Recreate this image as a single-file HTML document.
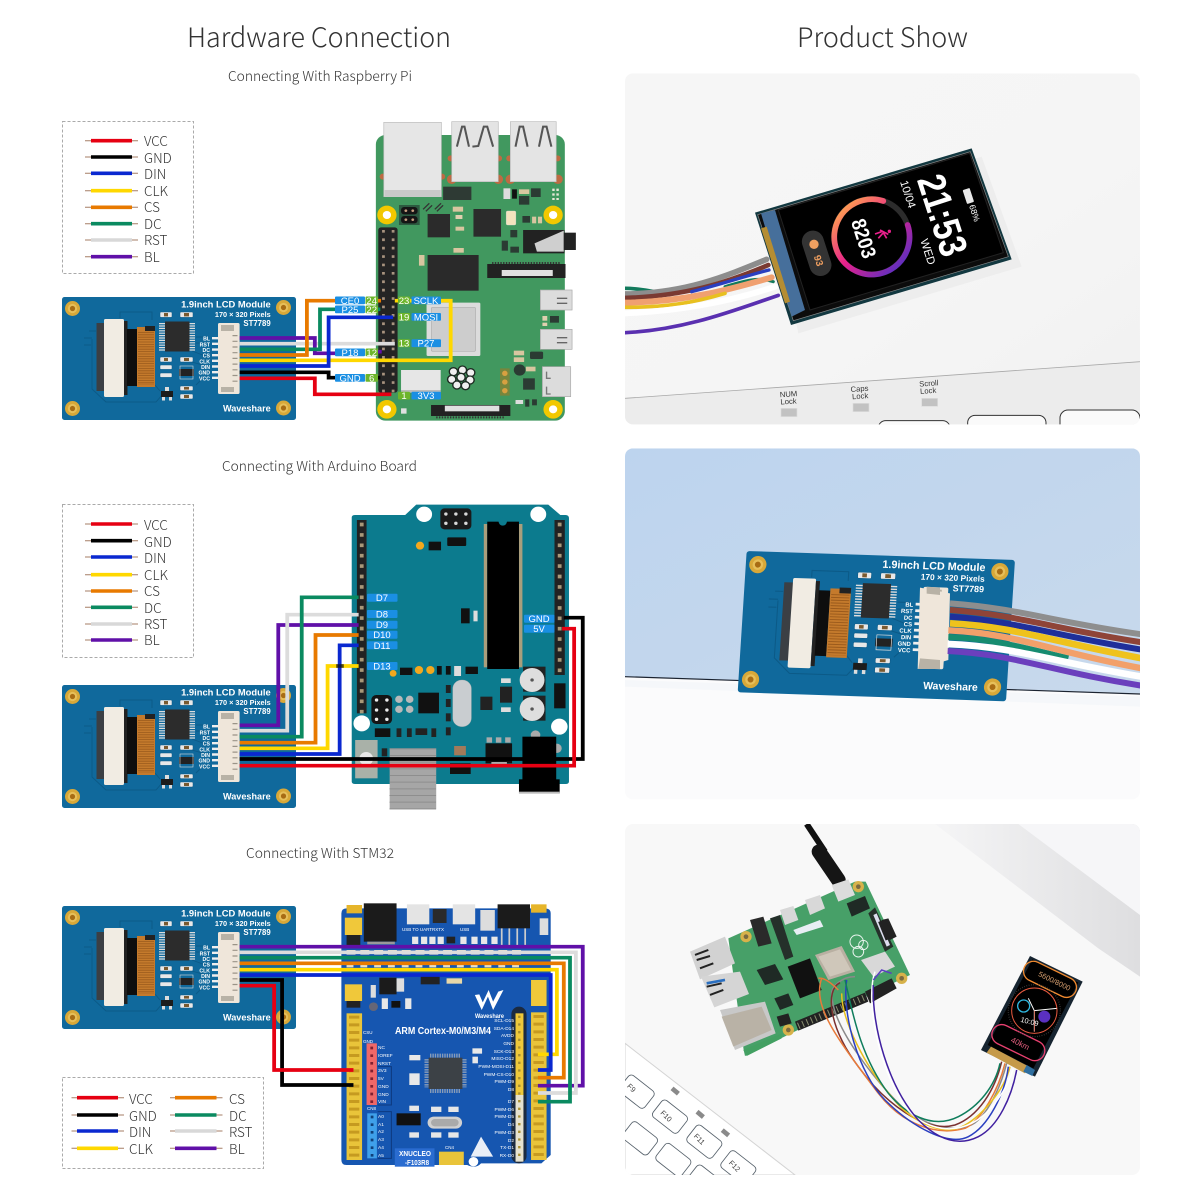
<!DOCTYPE html>
<html><head><meta charset="utf-8"><style>
html,body{margin:0;padding:0;background:#fff}
svg{display:block}
.t{font-family:"Noto Sans CJK SC","Liberation Sans",sans-serif;fill:#333;font-weight:300}
.b{font-family:"Liberation Sans",sans-serif;font-weight:bold;fill:#fff}
.l{font-family:"Liberation Sans",sans-serif;fill:#fff;font-size:9.5px;text-anchor:middle}
.s{font-family:"Liberation Sans",sans-serif;fill:#fff;font-size:5px}
.w{fill:none;stroke-width:11;stroke-linejoin:miter}
</style></head><body>
<svg xmlns="http://www.w3.org/2000/svg" width="1200" height="1200" viewBox="0 0 1200 1200">
<defs>
<clipPath id="cp1"><rect x="0" y="10" width="1545" height="1053" rx="24"/></clipPath>
<clipPath id="cp2"><rect x="0" y="10" width="1545" height="1053" rx="24"/></clipPath>
<clipPath id="cp3"><rect x="0" y="12" width="1545" height="1053" rx="24"/></clipPath>
<linearGradient id="ring" gradientUnits="userSpaceOnUse" x1="860" y1="560" x2="680" y2="380"><stop offset="0" stop-color="#5d2fc0"/><stop offset=".5" stop-color="#e8208c"/><stop offset="1" stop-color="#ffa050"/></linearGradient>
<linearGradient id="g1" x1="0" y1="0" x2="1" y2="1"><stop offset="0" stop-color="#f6f6f6"/><stop offset=".6" stop-color="#f5f5f5"/><stop offset="1" stop-color="#f1f1f1"/></linearGradient>
<linearGradient id="g2" x1="0" y1="0" x2="1" y2="1"><stop offset="0" stop-color="#bdd4ee"/><stop offset="1" stop-color="#c8d9ec"/></linearGradient>
<linearGradient id="g3" x1="0" y1="0" x2="1" y2="0"><stop offset="0" stop-color="#f5f5f6"/><stop offset="1" stop-color="#dedee0"/></linearGradient>
<g id="hole"><circle r="7.5" fill="#d8a838"/><circle r="4.6" fill="#e6bf5a"/><circle r="2.6" fill="#a86c14"/></g>
<g id="mod">
<rect width="234" height="123" rx="2.5" fill="#10699c"/>
<path d="M58 21V15H90V23M34 34H27M30 41H22M22 48H29M30 42V92L44 105H94L100 98M93 88L98 94M134 40H146M134 46H146M130 54L146 60M126 64L148 70M134 88L142 80" fill="none" stroke="#0c5a87" stroke-width=".9"/>
<use href="#hole" x="10.5" y="11.5"/><use href="#hole" x="221.5" y="10.5"/><use href="#hole" x="10.5" y="111.5"/><use href="#hole" x="221.5" y="111"/>
<rect x="34.5" y="26" width="9" height="68" fill="#3b3f44"/>
<rect x="42" y="22" width="20" height="78" rx="1.5" fill="#f1ece3"/>
<rect x="62" y="24" width="3.5" height="74" fill="#222"/>
<rect x="65" y="32" width="10" height="57" fill="#0e0e0e"/>
<rect x="75" y="30" width="18" height="60" fill="#c47a2c"/>
<rect x="83" y="29" width="10" height="5" fill="#222"/>
<line x1="84" y1="35" x2="84" y2="88" stroke="#9a5a1c" stroke-width="16" stroke-dasharray=".8 1.6"/>
<line x1="100" y1="26" x2="100" y2="54" stroke="#ddd" stroke-width="6" stroke-dasharray="1.2 1.2"/>
<line x1="130" y1="26" x2="130" y2="54" stroke="#ddd" stroke-width="6" stroke-dasharray="1.2 1.2"/>
<rect x="103" y="24.5" width="24.5" height="30" fill="#2c2c2c"/>
<g fill="#e8e8e8" stroke="#0c5a87" stroke-width=".5">
<rect x="98" y="15" width="12" height="5.4" rx="1"/><rect x="118" y="15" width="13" height="5.4" rx="1"/>
<rect x="98" y="60" width="12" height="5" rx="1"/><rect x="98" y="68" width="12" height="4.4" rx="1"/><rect x="98" y="76" width="12" height="4.4" rx="1"/>
<rect x="118" y="60" width="13" height="5" rx="1"/><rect x="118" y="89" width="13" height="4.6" rx="1"/><rect x="118" y="97" width="13" height="5" rx="1"/></g>
<g fill="#7a5a30"><rect x="102" y="16" width="4" height="3.4"/><rect x="122" y="16" width="5" height="3.4"/><rect x="102" y="61" width="4" height="3"/><rect x="122" y="61" width="5" height="3"/><rect x="122" y="90" width="5" height="2.6"/><rect x="122" y="98" width="5" height="3"/></g>
<rect x="117" y="72" width="15" height="7" fill="#222"/><rect x="118" y="69" width="13" height="13" fill="none" stroke="#ddd" stroke-width=".6"/>
<rect x="99" y="94" width="12" height="6" fill="#1c1c1c"/><rect x="103" y="90" width="4" height="4" fill="#ddd"/><rect x="100" y="100" width="3" height="3.5" fill="#ddd"/><rect x="107" y="100" width="3" height="3.5" fill="#ddd"/>
<line x1="153" y1="40" x2="153" y2="84" stroke="#eee" stroke-width="6" stroke-dasharray="2.4 3.26"/>
<rect x="156" y="26" width="21.6" height="71" rx="1.5" fill="#efe6da"/>
<rect x="159" y="28" width="13" height="6" fill="#b8b2a6"/><rect x="159" y="90" width="13" height="5" fill="#b8b2a6"/>
<line x1="173" y1="38" x2="173" y2="86" stroke="#9b9488" stroke-width="5" stroke-dasharray="1.2 4.5"/>
</g>
<g id="modt" class="b">
<text x="208.7" y="10.6" text-anchor="end" font-size="9.4">1.9inch LCD Module</text>
<text x="208.7" y="19.8" text-anchor="end" font-size="7.3">170 × 320 Pixels</text>
<text x="208.7" y="29" text-anchor="end" font-size="7.8">ST7789</text>
<text x="208.7" y="114.7" text-anchor="end" font-size="9.1">Waveshare</text>
<g text-anchor="end" font-size="5.2"><text x="148" y="43.6">BL</text><text x="148" y="49.3">RST</text><text x="148" y="55">DC</text><text x="148" y="60.7">CS</text><text x="148" y="66.3">CLK</text><text x="148" y="72">DIN</text><text x="148" y="77.7">GND</text><text x="148" y="83.3">VCC</text></g>
</g>
<g id="ph"><circle r="28" fill="#f2c800"/><circle r="12" fill="#fff"/></g>
</defs>

<rect width="1200" height="1200" fill="#fff"/>

<!-- Titles -->
<text class="t" x="187" y="47" font-size="27" textLength="264" lengthAdjust="spacingAndGlyphs">Hardware Connection</text>
<text class="t" x="797" y="47" font-size="27" textLength="171" lengthAdjust="spacingAndGlyphs">Product Show</text>
<text class="t" x="228" y="81" font-size="13.5" textLength="184" lengthAdjust="spacingAndGlyphs">Connecting With Raspberry Pi</text>
<text class="t" x="222" y="471" font-size="13.5" textLength="195" lengthAdjust="spacingAndGlyphs">Connecting With Arduino Board</text>
<text class="t" x="246" y="858" font-size="13.5" textLength="148" lengthAdjust="spacingAndGlyphs">Connecting With STM32</text>

<!-- Legend 1 -->
<rect x="62.5" y="121.5" width="131" height="152" fill="none" stroke="#aaa" stroke-dasharray="3 2"/>
<g stroke="#a57e66" stroke-width="1"><line x1="85" x2="138" y1="140.7" y2="140.7"/><line x1="85" x2="138" y1="157" y2="157"/><line x1="85" x2="138" y1="173.3" y2="173.3"/><line x1="85" x2="138" y1="190.7" y2="190.7"/><line x1="85" x2="138" y1="207.3" y2="207.3"/><line x1="85" x2="138" y1="223.7" y2="223.7"/><line x1="85" x2="138" y1="240" y2="240"/><line x1="85" x2="138" y1="256.7" y2="256.7"/></g>
<g stroke-width="3.6"><line x1="91" x2="132" y1="140.7" y2="140.7" stroke="#e60012"/><line x1="91" x2="132" y1="157" y2="157" stroke="#000"/><line x1="91" x2="132" y1="173.3" y2="173.3" stroke="#0a28d0"/><line x1="91" x2="132" y1="190.7" y2="190.7" stroke="#ffd800"/><line x1="91" x2="132" y1="207.3" y2="207.3" stroke="#e87a00"/><line x1="91" x2="132" y1="223.7" y2="223.7" stroke="#0a8a60"/><line x1="91" x2="132" y1="240" y2="240" stroke="#d8d8d8"/><line x1="91" x2="132" y1="256.7" y2="256.7" stroke="#6010a8"/></g>
<g class="t" font-size="13.5"><text x="144" y="146">VCC</text><text x="144" y="163">GND</text><text x="144" y="179">DIN</text><text x="144" y="196">CLK</text><text x="144" y="212">CS</text><text x="144" y="229">DC</text><text x="144" y="245">RST</text><text x="144" y="262">BL</text></g>

<!-- Module 1 -->
<g transform="translate(62,297)"><use href="#mod"/><use href="#modt"/></g>

<!-- RPi -->
<g transform="translate(50,110) scale(.34483,.33333)">
<rect x="945" y="75" width="548" height="857" rx="28" fill="#41985f"/>
<g fill="#bd6b43"><circle cx="965" cy="200" r="9"/><circle cx="1137" cy="200" r="9"/><circle cx="1165" cy="208" r="14"/><circle cx="1300" cy="208" r="14"/><circle cx="1335" cy="208" r="14"/><circle cx="1473" cy="208" r="14"/><circle cx="1162" cy="145" r="9"/><circle cx="1302" cy="145" r="9"/><circle cx="1332" cy="145" r="9"/><circle cx="1472" cy="145" r="9"/></g>
<rect x="968" y="37" width="167" height="223" fill="#e6e6e6" stroke="#bdbdbd" stroke-width="2"/><rect x="970" y="240" width="163" height="18" fill="#c9c9c9"/>
<rect x="1165" y="35" width="135" height="180" fill="#e4e4e4" stroke="#bbb" stroke-width="2"/>
<rect x="1335" y="35" width="133" height="180" fill="#e4e4e4" stroke="#bbb" stroke-width="2"/>
<path d="M1180 110 L1195 50 H1202 L1215 110M1225 110L1242 108L1258 50H1268L1285 110M1350 110L1362 50H1372L1385 110M1418 110L1430 50H1440L1454 110" fill="none" stroke="#555" stroke-width="6"/>
<rect x="1140" y="230" width="82" height="40" fill="#2e3a34"/>
<rect x="1012" y="285" width="60" height="60" fill="#2c5a40"/><rect x="1018" y="291" width="48" height="22" rx="9" fill="#151515"/><rect x="1018" y="318" width="48" height="22" rx="9" fill="#151515"/>
<g fill="#c8a080"><circle cx="1032" cy="302" r="4"/><circle cx="1052" cy="302" r="4"/><circle cx="1032" cy="329" r="4"/><circle cx="1052" cy="329" r="4"/></g>
<path d="M1082 298L1100 280M1090 304L1108 286M1116 298L1134 280M1122 304L1140 286" stroke="#333" stroke-width="4"/>
<rect x="1095" y="312" width="65" height="70" fill="#2b2b2b"/><rect x="1228" y="297" width="80" height="83" fill="#2b2b2b"/><rect x="1095" y="435" width="148" height="107" fill="#2a2a2a"/>
<rect x="1323" y="303" width="28" height="42" rx="4" fill="#f4e3bd" stroke="#ddd"/>
<rect x="1168" y="290" width="30" height="15" fill="#d8c6a0"/><rect x="1176" y="315" width="20" height="12" fill="#e0d0b0"/><rect x="1176" y="350" width="25" height="12" fill="#d8c6a0"/><rect x="1170" y="414" width="30" height="14" fill="#d8c6a0"/><rect x="1070" y="435" width="16" height="32" fill="#d8c6a0"/>
<rect x="1315" y="235" width="20" height="32" fill="#ddd"/><rect x="1340" y="238" width="14" height="28" fill="#111"/><rect x="1360" y="238" width="30" height="14" fill="#d8c6a0"/><rect x="1395" y="235" width="28" height="26" fill="#2b3b33"/><rect x="1360" y="258" width="30" height="26" fill="#2b3b33"/>
<line x1="1460" x2="1460" y1="236" y2="270" stroke="#e8e8d8" stroke-width="7" stroke-dasharray="7 7"/><line x1="1472" x2="1472" y1="236" y2="270" stroke="#e8e8d8" stroke-width="7" stroke-dasharray="7 7"/>
<rect x="1370" y="318" width="22" height="20" fill="#2b3b33"/><rect x="1398" y="320" width="12" height="20" fill="#d8c6a0"/><rect x="1415" y="320" width="12" height="20" fill="#d8c6a0"/>
<rect x="1372" y="360" width="120" height="70" fill="#222"/><path d="M1405 400L1490 362V425H1412Z" fill="#cfcfcf"/><rect x="1490" y="368" width="35" height="52" fill="#222"/>
<rect x="1310" y="392" width="18" height="30" fill="#2b3b33"/><rect x="1335" y="360" width="20" height="22" fill="#2b3b33"/><rect x="1335" y="410" width="25" height="18" fill="#2b3b33"/>
<rect x="1268" y="462" width="227" height="42" fill="#222"/><rect x="1310" y="480" width="148" height="18" fill="#e0e0e0"/><line x1="1282" x2="1480" y1="459" y2="459" stroke="#333" stroke-width="6" stroke-dasharray="4 4"/>
<rect x="952" y="352" width="56" height="496" rx="8" fill="#242424"/>
<line x1="967" x2="967" y1="360" y2="848" stroke="#a8937f" stroke-width="8" stroke-dasharray="8 17.2"/>
<line x1="995" x2="995" y1="360" y2="848" stroke="#a8937f" stroke-width="8" stroke-dasharray="8 17.2"/>
<use href="#ph" x="977" y="315"/><use href="#ph" x="1459" y="315"/><use href="#ph" x="977" y="898"/><use href="#ph" x="1459" y="898"/>
<rect x="1092" y="578" width="156" height="160" rx="4" fill="#dcdcdc"/><rect x="1106" y="592" width="128" height="132" rx="4" fill="#cdcdcd" stroke="#b0b0b0" stroke-width="2"/>
<rect x="1018" y="780" width="115" height="60" fill="#e6e6e6"/><rect x="1018" y="840" width="115" height="8" fill="#bbb"/>
<g fill="#f0f0f0" stroke="#1d2a22" stroke-width="4"><circle cx="1170" cy="785" r="12"/><circle cx="1196" cy="780" r="12"/><circle cx="1220" cy="788" r="12"/><circle cx="1165" cy="808" r="12"/><circle cx="1192" cy="802" r="12"/><circle cx="1218" cy="810" r="12"/><circle cx="1180" cy="825" r="12"/><circle cx="1205" cy="827" r="12"/></g>
<rect x="1018" y="895" width="16" height="16" fill="#e0e0e0"/>
<rect x="1105" y="885" width="230" height="33" fill="#222"/><rect x="1145" y="887" width="158" height="17" fill="#e0e0e0"/><line x1="1120" x2="1320" y1="922" y2="922" stroke="#333" stroke-width="6" stroke-dasharray="4 4"/>
<rect x="1422" y="540" width="92" height="60" fill="#dcdcdc" stroke="#aaa" stroke-width="2"/><rect x="1422" y="658" width="92" height="60" fill="#dcdcdc" stroke="#aaa" stroke-width="2"/>
<path d="M1470 565H1500M1470 580H1500M1470 683H1500M1470 698H1500" stroke="#666" stroke-width="4"/>
<rect x="1428" y="770" width="82" height="90" fill="#dcdcdc" stroke="#aaa" stroke-width="2"/><path d="M1440 785V805H1452M1440 830V852H1452" fill="none" stroke="#777" stroke-width="4"/>
<rect x="1428" y="618" width="14" height="14" fill="#e0d0b0"/><rect x="1450" y="618" width="26" height="20" fill="#2b3b33"/><rect x="1428" y="638" width="14" height="10" fill="#e0d0b0"/>
<rect x="1345" y="722" width="30" height="14" fill="#d8c6a0"/><rect x="1345" y="742" width="30" height="14" fill="#d8c6a0"/><rect x="1392" y="725" width="38" height="22" rx="4" fill="#2b3b33"/>
<circle cx="1362" cy="780" r="17" fill="#2b3b33"/><rect x="1372" y="805" width="34" height="34" fill="#2b3b33"/><rect x="1380" y="770" width="28" height="14" fill="#d8c6a0"/>
<rect x="1305" y="775" width="28" height="82" fill="#77863d"/><g fill="#d8a040"><circle cx="1319" cy="790" r="8"/><circle cx="1319" cy="816" r="8"/><circle cx="1319" cy="842" r="8"/></g>
<rect x="1350" y="870" width="22" height="12" fill="#ddd"/><rect x="1378" y="868" width="12" height="22" fill="#2b3b33"/><rect x="1398" y="868" width="14" height="18" fill="#2b3b33"/>
<g class="w">
<path d="M550 701H1000" stroke="#dcdcdc"/>
<path d="M550 684H768V730H830M945 725H962" stroke="#6010a8"/>
<path d="M550 718H783V598H830M945 598H958" stroke="#0a8a60"/>
<path d="M550 735H745V572H830M945 572H960" stroke="#e87a00"/>
<path d="M550 751H1162V572H1000" stroke="#ffd800"/>
<path d="M550 768H808V622H995" stroke="#0a28d0"/>
<path d="M550 787H808V803H830M945 803H958" stroke="#000"/>
<path d="M550 805H768V853H990" stroke="#e60012"/>
</g>
</g>
<!-- RPi labels -->
<g fill="#1a8fe3"><rect x="335" y="296.5" width="30" height="7.8" rx="1"/><rect x="335" y="305.5" width="30" height="7.8" rx="1"/><rect x="335" y="348.5" width="30" height="7.8" rx="1"/><rect x="335" y="374" width="30" height="7.8" rx="1"/><rect x="411.5" y="296.5" width="29.5" height="7.8" rx="1"/><rect x="411.5" y="313" width="29.5" height="7.8" rx="1"/><rect x="411.5" y="339.3" width="29.5" height="7.8" rx="1"/><rect x="411.5" y="391.7" width="29.5" height="7.8" rx="1"/></g>
<g fill="#6db52b"><rect x="365.5" y="296.5" width="12.5" height="7.8" rx="1"/><rect x="365.5" y="305.5" width="12.5" height="7.8" rx="1"/><rect x="365.5" y="348.5" width="12.5" height="7.8" rx="1"/><rect x="365.5" y="374" width="12.5" height="7.8" rx="1"/><rect x="398" y="296.5" width="12" height="7.8" rx="1"/><rect x="398" y="313" width="12" height="7.8" rx="1"/><rect x="398" y="339.3" width="12" height="7.8" rx="1"/><rect x="398" y="391.7" width="12" height="7.8" rx="1"/></g>
<g class="l"><text x="350" y="303.8">CE0</text><text x="350" y="312.8">P25</text><text x="350" y="355.8">P18</text><text x="350" y="381.3">GND</text><text x="371.7" y="303.8">24</text><text x="371.7" y="312.8">22</text><text x="371.7" y="355.8">12</text><text x="371.7" y="381.3">6</text><text x="404" y="303.8">23</text><text x="404" y="320.3">19</text><text x="404" y="346.6">13</text><text x="404" y="399">1</text><text x="426" y="303.8">SCLK</text><text x="426" y="320.3">MOSI</text><text x="426" y="346.6">P27</text><text x="426" y="399">3V3</text></g>

<!-- Legend 2 -->
<rect x="62.5" y="504.5" width="131" height="153" fill="none" stroke="#aaa" stroke-dasharray="3 2"/>
<g stroke="#a57e66" stroke-width="1"><line x1="85" x2="138" y1="524" y2="524"/><line x1="85" x2="138" y1="540.7" y2="540.7"/><line x1="85" x2="138" y1="557" y2="557"/><line x1="85" x2="138" y1="574.7" y2="574.7"/><line x1="85" x2="138" y1="591" y2="591"/><line x1="85" x2="138" y1="607.3" y2="607.3"/><line x1="85" x2="138" y1="624" y2="624"/><line x1="85" x2="138" y1="640" y2="640"/></g>
<g stroke-width="3.6"><line x1="91" x2="132" y1="524" y2="524" stroke="#e60012"/><line x1="91" x2="132" y1="540.7" y2="540.7" stroke="#000"/><line x1="91" x2="132" y1="557" y2="557" stroke="#0a28d0"/><line x1="91" x2="132" y1="574.7" y2="574.7" stroke="#ffd800"/><line x1="91" x2="132" y1="591" y2="591" stroke="#e87a00"/><line x1="91" x2="132" y1="607.3" y2="607.3" stroke="#0a8a60"/><line x1="91" x2="132" y1="624" y2="624" stroke="#d8d8d8"/><line x1="91" x2="132" y1="640" y2="640" stroke="#6010a8"/></g>
<g class="t" font-size="13.5"><text x="144" y="530">VCC</text><text x="144" y="547">GND</text><text x="144" y="563">DIN</text><text x="144" y="580">CLK</text><text x="144" y="596">CS</text><text x="144" y="613">DC</text><text x="144" y="629">RST</text><text x="144" y="645">BL</text></g>

<!-- Module 2 -->
<g transform="translate(62,685)"><use href="#mod"/><use href="#modt"/></g>

<!-- Arduino -->
<g transform="translate(50,500) scale(.34483,.33333)">
<path d="M875 52Q875 45 885 45H1030L1062 14H1445L1480 45H1495Q1505 45 1505 55V845Q1505 852 1495 852H885Q875 852 875 845Z" fill="#0c7b8e"/>
<rect x="890" y="60" width="28" height="580" fill="#222"/>
<line x1="904" x2="904" y1="68" y2="640" stroke="#a89878" stroke-width="11" stroke-dasharray="11 20.2"/>
<rect x="1463" y="60" width="30" height="465" fill="#222"/>
<line x1="1478" x2="1478" y1="68" y2="270" stroke="#a89878" stroke-width="11" stroke-dasharray="11 20.2"/>
<line x1="1478" x2="1478" y1="287" y2="525" stroke="#a89878" stroke-width="11" stroke-dasharray="11 20.2"/>
<rect x="1132" y="25" width="90" height="63" rx="12" fill="#1a1a1a"/>
<g fill="#d8d8d8"><circle cx="1148" cy="42" r="5"/><circle cx="1177" cy="42" r="5"/><circle cx="1206" cy="42" r="5"/><circle cx="1148" cy="70" r="5"/><circle cx="1177" cy="70" r="5"/><circle cx="1206" cy="70" r="5"/></g>
<rect x="1258" y="72" width="10" height="430" fill="#aa9e7c"/><rect x="1360" y="72" width="10" height="430" fill="#aa9e7c"/>
<rect x="1268" y="65" width="92" height="442" fill="#000"/>
<g fill="#0c7b8e"><circle cx="1313" cy="65" r="12"/></g>
<circle cx="1085" cy="43" r="23" fill="#fff"/><circle cx="1416" cy="43" r="23" fill="#fff"/><circle cx="904" cy="670" r="24" fill="#fff"/><circle cx="1477" cy="680" r="24" fill="#fff"/>
<rect x="1098" y="125" width="36" height="26" fill="#111"/><rect x="1152" y="112" width="55" height="26" rx="3" fill="#111"/>
<g fill="#f3a81e"><circle cx="1073" cy="137" r="12"/><circle cx="1070" cy="510" r="12"/><circle cx="1103" cy="510" r="12"/></g><circle cx="995" cy="520" r="10" fill="#f3a81e"/>
<rect x="1192" y="325" width="25" height="45" fill="#111"/><rect x="1228" y="332" width="12" height="32" fill="#ddd"/>
<g fill="#111"><rect x="1015" y="503" width="36" height="22"/><rect x="1122" y="498" width="14" height="26"/><rect x="1148" y="498" width="14" height="26"/><rect x="1205" y="500" width="36" height="22"/><rect x="942" y="685" width="45" height="26"/></g><rect x="1172" y="498" width="20" height="30" fill="#ddd"/>
<rect x="1168" y="540" width="54" height="140" rx="26" fill="#c9cdd0" stroke="#aaa"/>
<rect x="1248" y="590" width="35" height="40" fill="#222"/><rect x="1305" y="560" width="35" height="48" fill="#222"/><rect x="1308" y="535" width="28" height="14" fill="#ddd"/><rect x="1308" y="622" width="28" height="14" fill="#ddd"/>
<rect x="1372" y="500" width="65" height="75" fill="#222"/><rect x="1372" y="587" width="65" height="75" fill="#222"/>
<circle cx="1398" cy="540" r="36" fill="#dedede"/><circle cx="1398" cy="627" r="36" fill="#dedede"/><circle cx="1398" cy="540" r="5" fill="#555"/><circle cx="1398" cy="627" r="5" fill="#555"/>
<rect x="1462" y="550" width="33" height="75" fill="#111"/>
<rect x="932" y="585" width="60" height="87" rx="14" fill="#151515"/><g fill="#eee"><circle cx="947" cy="600" r="5"/><circle cx="977" cy="600" r="5"/><circle cx="947" cy="630" r="5"/><circle cx="977" cy="630" r="5"/><circle cx="947" cy="658" r="5"/><circle cx="977" cy="658" r="5"/></g>
<g fill="#b9b9b9"><circle cx="1012" cy="598" r="11"/><circle cx="1043" cy="598" r="11"/><circle cx="1012" cy="628" r="11"/><circle cx="1043" cy="628" r="11"/></g>
<rect x="1068" y="578" width="60" height="62" fill="#111"/>
<g fill="#222"><rect x="1148" y="555" width="14" height="24"/><rect x="1148" y="597" width="14" height="24"/><rect x="1148" y="640" width="14" height="24"/><rect x="1148" y="682" width="14" height="24"/><rect x="1005" y="685" width="14" height="26"/><rect x="1035" y="685" width="14" height="26"/><rect x="1060" y="685" width="34" height="20"/><rect x="1106" y="685" width="14" height="26"/></g>
<rect x="885" y="720" width="65" height="115" fill="#a9b1a8"/><circle cx="917" cy="776" r="20" fill="#e8e8e8"/>
<rect x="962" y="745" width="16" height="24" fill="#222"/>
<rect x="985" y="745" width="135" height="183" fill="#a6a6a6"/><line x1="1052" x2="1052" y1="745" y2="928" stroke="#8e8e8e" stroke-width="135" stroke-dasharray="3 17"/>
<rect x="1172" y="738" width="34" height="28" fill="#a27a5a"/><rect x="1160" y="790" width="60" height="32" fill="#111"/>
<rect x="1263" y="730" width="77" height="60" fill="#111"/><g fill="#aaa"><rect x="1266" y="712" width="16" height="16"/><rect x="1293" y="712" width="16" height="16"/><rect x="1320" y="712" width="16" height="16"/><rect x="1280" y="786" width="45" height="8"/></g>
<circle cx="1470" cy="745" r="14" fill="#aaa"/><circle cx="1408" cy="705" r="14" fill="#aaa"/>
<rect x="1370" y="710" width="98" height="130" fill="#000"/><rect x="1360" y="838" width="118" height="42" fill="#000"/><rect x="1360" y="875" width="118" height="6" fill="#bbb"/>
<g class="w">
<path d="M550 676H662V375H895" stroke="#6010a8"/>
<path d="M550 692H688V344H895" stroke="#dcdcdc"/>
<path d="M550 710H730V292H895" stroke="#0a8a60"/>
<path d="M550 728H770V405H895" stroke="#e87a00"/>
<path d="M550 745H805V498H895" stroke="#ffd800"/>
<path d="M550 762H840V436H895" stroke="#0a28d0"/>
<path d="M550 777H1545V353H1490" stroke="#000"/>
<path d="M550 797H1520V386H1485" stroke="#e60012"/>
</g>
<path d="M830 498H852" stroke="#111" stroke-width="11" opacity=".7"/>
</g>
<g fill="#1a8fe3"><rect x="367" y="593.7" width="30.5" height="8" rx="1"/><rect x="367" y="610" width="30.5" height="8" rx="1"/><rect x="367" y="620.7" width="30.5" height="8" rx="1"/><rect x="367" y="630.7" width="30.5" height="8" rx="1"/><rect x="367" y="641.3" width="30.5" height="8" rx="1"/><rect x="367" y="662" width="30.5" height="8" rx="1"/><rect x="524" y="614.7" width="30.5" height="8" rx="1"/><rect x="524" y="624.7" width="30.5" height="8" rx="1"/></g>
<g class="l"><text x="382" y="601.2">D7</text><text x="382" y="617.5">D8</text><text x="382" y="628.2">D9</text><text x="382" y="638.2">D10</text><text x="382" y="648.8">D11</text><text x="382" y="669.5">D13</text><text x="539" y="622.2">GND</text><text x="539" y="632.2">5V</text></g>

<!-- Module 3 -->
<g transform="translate(62,906)"><use href="#mod"/><use href="#modt"/></g>

<!-- STM32 -->
<g transform="translate(50,895) scale(.34483,.33333)">
<path d="M860 40H1435Q1452 40 1452 55V780L1425 805H1250Q1235 822 1210 810H860Q845 810 845 795V55Q845 40 860 40Z" fill="#1656b0"/>
<rect x="860" y="30" width="45" height="25" fill="#e6b52a"/><rect x="1395" y="28" width="45" height="25" fill="#e6b52a"/>
<rect x="855" y="68" width="50" height="52" fill="#f0c83a"/><rect x="860" y="120" width="40" height="30" fill="#222"/>
<rect x="910" y="25" width="95" height="115" fill="#1b1b1b"/><rect x="920" y="140" width="80" height="8" fill="#999"/>
<rect x="1035" y="28" width="65" height="60" fill="#e4e4e4"/><rect x="1168" y="28" width="65" height="60" fill="#e4e4e4"/><rect x="1110" y="42" width="40" height="42" fill="#2a2a2a"/><rect x="1248" y="45" width="42" height="62" fill="#ddd"/>
<rect x="1298" y="28" width="94" height="72" fill="#1b1b1b"/><path d="M1310 100V150M1332 100V150M1355 100V150M1378 100V150" stroke="#ccc" stroke-width="5"/>
<rect x="1420" y="70" width="25" height="50" fill="#ddd"/>
<g fill="#e8e8e8"><rect x="1050" y="125" width="18" height="22"/><rect x="1076" y="125" width="18" height="22"/><rect x="1100" y="125" width="18" height="22"/><rect x="1124" y="125" width="18" height="22"/><rect x="1190" y="125" width="18" height="22"/><rect x="1222" y="125" width="18" height="22"/><rect x="1250" y="125" width="18" height="22"/><rect x="1280" y="125" width="18" height="22"/></g>
<rect x="1150" y="125" width="25" height="20" fill="#222"/>
<line x1="860" x2="1380" y1="172" y2="172" stroke="#e7dfc9" stroke-width="14" stroke-dasharray="26 14"/>
<line x1="860" x2="1380" y1="210" y2="210" stroke="#e7dfc9" stroke-width="14" stroke-dasharray="20 20"/>
<rect x="1075" y="240" width="55" height="28" fill="#222"/><rect x="1150" y="250" width="45" height="16" fill="#e8d8a8"/>
<rect x="955" y="248" width="50" height="50" fill="#1b1b1b"/><rect x="1005" y="250" width="22" height="40" fill="#ddd"/>
<rect x="930" y="270" width="15" height="38" fill="#ddd"/><circle cx="938" cy="335" r="13" fill="#667"/>
<rect x="855" y="268" width="50" height="50" fill="#f0c83a"/><rect x="860" y="318" width="40" height="20" fill="#222"/>
<rect x="1395" y="255" width="45" height="78" fill="#f0c83a"/>
<g fill="#e8e8e8"><rect x="962" y="310" width="18" height="32"/><rect x="1030" y="310" width="18" height="32"/><rect x="1042" y="480" width="32" height="16"/><rect x="1042" y="535" width="30" height="35"/><rect x="1225" y="460" width="28" height="16"/><rect x="1225" y="485" width="16" height="20"/></g>
<rect x="990" y="318" width="26" height="20" fill="#111"/>
<rect x="860" y="355" width="45" height="440" fill="#e9c43a"/><line x1="882" x2="882" y1="362" y2="795" stroke="#c69a20" stroke-width="30" stroke-dasharray="9 14"/>
<rect x="1395" y="352" width="45" height="443" fill="#e9c43a"/><line x1="1417" x2="1417" y1="360" y2="795" stroke="#c69a20" stroke-width="30" stroke-dasharray="9 14"/>
<rect x="1338" y="335" width="44" height="470" rx="22" fill="#1b2a40"/>
<rect x="1350" y="355" width="23" height="245" fill="#eec83a"/><rect x="1350" y="600" width="23" height="200" fill="#e6e2cf"/>
<line x1="1361" x2="1361" y1="362" y2="795" stroke="#aa9030" stroke-width="7" stroke-dasharray="7 16"/>
<rect x="918" y="445" width="30" height="185" fill="#ef6868"/><line x1="933" x2="933" y1="455" y2="630" stroke="#802030" stroke-width="8" stroke-dasharray="8 15"/>
<rect x="920" y="655" width="28" height="135" fill="#3fa0ea"/><line x1="934" x2="934" y1="662" y2="790" stroke="#10407a" stroke-width="8" stroke-dasharray="8 15"/>
<path d="M950 515H990V630H950M950 650H990V790H950" fill="none" stroke="#0d3a80" stroke-width="3"/>
<rect x="1098" y="488" width="98" height="94" fill="#3c4146"/>
<line x1="1102" x2="1192" y1="482" y2="482" stroke="#bbb" stroke-width="12" stroke-dasharray="2 3"/><line x1="1102" x2="1192" y1="588" y2="588" stroke="#bbb" stroke-width="12" stroke-dasharray="2 3"/><line x1="1092" x2="1092" y1="492" y2="578" stroke="#bbb" stroke-width="12" stroke-dasharray="2 3"/><line x1="1202" x2="1202" y1="492" y2="578" stroke="#bbb" stroke-width="12" stroke-dasharray="2 3"/>
<rect x="1095" y="665" width="100" height="36" rx="18" fill="#d0d0d0"/><rect x="1105" y="672" width="80" height="22" rx="11" fill="#aaa"/>
<rect x="1005" y="655" width="70" height="36" fill="#111"/><rect x="1042" y="632" width="28" height="16" fill="#e6e6e6"/><rect x="1042" y="712" width="28" height="16" fill="#e6e6e6"/><rect x="1105" y="635" width="30" height="16" fill="#e6e6e6"/><rect x="1155" y="635" width="30" height="16" fill="#e6e6e6"/><rect x="1105" y="712" width="30" height="16" fill="#e6e6e6"/><rect x="1155" y="712" width="30" height="16" fill="#e6e6e6"/>
<rect x="1000" y="760" width="115" height="55" fill="#2a6cd0"/>
<rect x="1128" y="770" width="72" height="40" fill="#e9c43a"/><circle cx="1228" cy="800" r="14" fill="#fff"/>
<path d="M1250 725L1285 785H1220Z" fill="#fff" opacity=".9"/>
<path d="M1232 300L1252 345L1270 305L1285 345L1315 285L1300 290L1285 320L1272 285L1255 322L1245 298Z" fill="#fff"/>
<g class="w">
<path d="M550 155H1545V572H1415" stroke="#6010a8"/>
<path d="M550 172H1525V594H1415" stroke="#dcdcdc"/>
<path d="M550 188H1508V620H1415" stroke="#0a8a60"/>
<path d="M550 205H1490V548H1415" stroke="#e87a00"/>
<path d="M550 224H1470V478H1415" stroke="#ffd800"/>
<path d="M550 240H1452V525H1415" stroke="#0a28d0"/>
<path d="M550 255H673V570H880" stroke="#000"/>
<path d="M550 272H650V525H880" stroke="#e60012"/>
</g>
</g>
<text class="b" x="395" y="1034" font-size="10" textLength="96" lengthAdjust="spacingAndGlyphs">ARM Cortex-M0/M3/M4</text>
<text class="b" x="475" y="1018" font-size="6.5" textLength="29" lengthAdjust="spacingAndGlyphs">Waveshare</text>
<text class="b" x="399" y="1156" font-size="7.5" font-weight="normal" textLength="32" lengthAdjust="spacingAndGlyphs">XNUCLEO</text>
<text class="b" x="405" y="1165" font-size="7.5" textLength="24" lengthAdjust="spacingAndGlyphs">-F103R8</text>
<g class="s" text-anchor="end" style="font-size:4.8px"><text x="514" y="1022">SCL-D15</text><text x="514" y="1030">SDA-D14</text><text x="514" y="1037">AVDD</text><text x="514" y="1045">GND</text><text x="514" y="1053">SCK-D13</text><text x="514" y="1060">MISO-D12</text><text x="514" y="1068">PWM-MOSI-D11</text><text x="514" y="1076">PWM-CS-D10</text><text x="514" y="1083">PWM-D9</text><text x="514" y="1091">D8</text><text x="514" y="1103">D7</text><text x="514" y="1111">PWM-D6</text><text x="514" y="1118">PWM-D5</text><text x="514" y="1126">D4</text><text x="514" y="1134">PWM-D3</text><text x="514" y="1142">D2</text><text x="514" y="1149">TX-D1</text><text x="514" y="1157">RX-D0</text></g>
<g class="s" style="font-size:4.8px"><text x="378" y="1049">NC</text><text x="378" y="1057">IOREF</text><text x="378" y="1065">NRST</text><text x="378" y="1072">3V3</text><text x="378" y="1080">5V</text><text x="378" y="1088">GND</text><text x="378" y="1096">GND</text><text x="378" y="1103">VIN</text><text x="378" y="1118">A0</text><text x="378" y="1126">A1</text><text x="378" y="1133">A2</text><text x="378" y="1141">A3</text><text x="378" y="1149">A4</text><text x="378" y="1157">A5</text></g>
<g class="s" style="font-size:4.5px"><text x="402" y="931">USB TO UART</text><text x="432" y="931">RXTX</text><text x="460" y="931">USB</text><text x="363" y="1034">CSU</text><text x="363" y="1043">GND</text><text x="367" y="1110">CN8</text><text x="445" y="1149">CN4</text></g>

<!-- Legend 3 -->
<rect x="62.5" y="1077.5" width="201" height="91" fill="none" stroke="#aaa" stroke-dasharray="3 2"/>
<g stroke="#a57e66" stroke-width="1"><path d="M71.5 1097.7H124M71.5 1115H124M71.5 1131H124M71.5 1148.3H124M170 1097.7H222.5M170 1115H222.5M170 1131H222.5M170 1148.3H222.5" fill="none"/></g>
<g stroke-width="3.6"><line x1="77" x2="118" y1="1097.7" y2="1097.7" stroke="#e60012"/><line x1="77" x2="118" y1="1115" y2="1115" stroke="#000"/><line x1="77" x2="118" y1="1131" y2="1131" stroke="#0a28d0"/><line x1="77" x2="118" y1="1148.3" y2="1148.3" stroke="#ffd800"/><line x1="175" x2="216.5" y1="1097.7" y2="1097.7" stroke="#e87a00"/><line x1="175" x2="216.5" y1="1115" y2="1115" stroke="#0a8a60"/><line x1="175" x2="216.5" y1="1131" y2="1131" stroke="#d8d8d8"/><line x1="175" x2="216.5" y1="1148.3" y2="1148.3" stroke="#6010a8"/></g>
<g class="t" font-size="13.5"><text x="129" y="1104">VCC</text><text x="129" y="1121">GND</text><text x="129" y="1137">DIN</text><text x="129" y="1154">CLK</text><text x="229" y="1104">CS</text><text x="229" y="1121">DC</text><text x="229" y="1137">RST</text><text x="229" y="1154">BL</text></g>

<!-- Photo 1 -->
<g transform="translate(625,70) scale(.33333)"><g clip-path="url(#cp1)">
<rect width="1545" height="1063" y="10" fill="url(#g1)"/>
<path d="M0 985L1545 875V1065H0Z" fill="#ececec"/>
<path d="M0 985L1545 875" stroke="#a8a8a8" stroke-width="2.5" fill="none"/>
<path d="M450 450L1070 260L1190 590L520 790Z" fill="#ccc" opacity=".18"/>
<g fill="none" stroke-linecap="round">
<path d="M0 655C50 655 90 668 120 668" stroke="#127a5c" stroke-width="11"/>
<path d="M0 672C180 670 300 620 425 568" stroke="#8d8d8d" stroke-width="17"/>
<path d="M0 684C180 678 300 640 430 585" stroke="#7a3a32" stroke-width="14"/>
<path d="M200 665C300 640 360 618 432 600" stroke="#2a3fc0" stroke-width="10"/>
<path d="M300 650C360 632 400 620 445 635" stroke="#127a5c" stroke-width="9"/>
<path d="M0 698C180 695 310 660 440 622" stroke="#f0a070" stroke-width="18"/>
<path d="M0 712C120 712 200 700 300 670" stroke="#e8c020" stroke-width="11"/>
<path d="M0 730C180 722 330 690 450 650" stroke="#fff" stroke-width="18"/>
<path d="M0 788C180 780 330 720 460 676" stroke="#5a30b0" stroke-width="11"/>
</g>
<polygon points="390,428 1040,235 1160,568 498,765" fill="#123840"/>
<polygon points="398,434 1036,245 1150,560 505,752" fill="#0c0c0c" stroke="#8a8a8a" stroke-width="2"/>
<polygon points="460,420 1034,250 1135,548 555,720" fill="#000" stroke="#222" stroke-width="3"/>
<polygon points="408,430 450,420 540,720 500,740" fill="#466f9b"/>
<polygon points="408,475 425,470 495,695 480,700" fill="#b58d33"/>
<circle cx="740" cy="500" r="113" fill="none" stroke="#2c2c2c" stroke-width="17"/>
<path d="M848 465A113 113 0 1 1 775 393" fill="none" stroke="url(#ring)" stroke-width="17" stroke-linecap="round"/>
<g class="b" text-anchor="middle">
<text transform="translate(914,448) rotate(72)" font-size="118" textLength="250" lengthAdjust="spacingAndGlyphs">21:53</text>
<text transform="translate(696,512) rotate(72)" font-size="62" textLength="120" lengthAdjust="spacingAndGlyphs">8203</text>
<text transform="translate(838,376) rotate(72)" font-size="34" font-weight="normal" style="font-weight:normal">10/04</text>
<text transform="translate(898,549) rotate(72)" font-size="34" style="font-weight:normal">WED</text>
<text transform="translate(1040,432) rotate(72)" font-size="26" style="font-weight:normal">68%</text>
</g>
<rect x="-70" y="-33" width="140" height="66" rx="33" transform="translate(575,550) rotate(72)" fill="#333"/>
<text class="b" text-anchor="middle" transform="translate(571,575) rotate(72)" font-size="30" style="fill:#f0a060">93</text>
<circle cx="567" cy="523" r="14" fill="#f0a060"/>
<rect x="-22" y="-11" width="44" height="22" rx="3" transform="translate(1030,378) rotate(72)" fill="#e8e8e8"/>
<circle cx="793" cy="484" r="5" fill="#e8208c"/><path d="M790 493L765 480M775 488L760 505M775 488L785 505M750 492L770 485" stroke="#e8208c" stroke-width="5" fill="none"/>
<g font-family="Liberation Sans,sans-serif" fill="#333" font-size="23" text-anchor="middle">
<text x="491" y="980" transform="rotate(-4 491 980)">NUM</text><text x="491" y="1002" transform="rotate(-4 491 1002)">Lock</text>
<text x="704" y="964" transform="rotate(-4 704 964)">Caps</text><text x="706" y="986" transform="rotate(-4 706 986)">Lock</text>
<text x="912" y="948" transform="rotate(-4 912 948)">Scroll</text><text x="910" y="970" transform="rotate(-4 910 970)">Lock</text></g>
<g fill="#c2c2c2" stroke="#ddd" stroke-width="2"><rect x="468" y="1015" width="48" height="25"/><rect x="684" y="1000" width="48" height="25"/><rect x="890" y="985" width="48" height="24"/></g>
<g fill="#fafafa" stroke="#333" stroke-width="3"><rect x="760" y="1052" width="215" height="60" rx="22"/><rect x="1028" y="1036" width="235" height="60" rx="22"/><rect x="1305" y="1020" width="240" height="70" rx="24"/></g>
</g></g>

<!-- Photo 2 -->
<g transform="translate(625,445) scale(.33333)"><g clip-path="url(#cp2)">
<rect y="10" width="1545" height="1055" fill="#fbfbfc"/>
<path d="M0 10H1545V745L0 695Z" fill="url(#g2)"/>
<path d="M0 695L1545 747" stroke="#1b2330" stroke-width="3.5"/>
<path d="M0 705L1545 755V785L0 725Z" fill="#e9eef4" opacity=".3"/>
<g transform="matrix(3.44,.1154,-.2195,3.447,365,318)"><use href="#mod"/><use href="#modt"/></g>
<polygon points="885,428 975,445 970,645 878,672" fill="#efe6da"/>
<polygon points="905,425 945,428 945,450 905,446" fill="#b8b2a6"/>
<polygon points="885,640 945,645 945,672 880,672" fill="#b8b2a6"/>
<g fill="none">
<path d="M975 475C1180 490 1280 530 1550 568" stroke="#8e8e8e" stroke-width="18"/>
<path d="M975 495C1180 510 1280 550 1550 592" stroke="#8f4438" stroke-width="18"/>
<path d="M975 515C1180 530 1280 570 1550 614" stroke="#1f2f9a" stroke-width="18"/>
<path d="M975 535C1170 545 1280 590 1550 640" stroke="#efc21c" stroke-width="20"/>
<path d="M970 576C1100 580 1200 610 1330 640" stroke="#178c70" stroke-width="18"/>
<path d="M970 556C1170 565 1280 620 1550 670" stroke="#f2a06a" stroke-width="19"/>
<path d="M968 597C1170 605 1280 650 1550 695" stroke="#fff" stroke-width="20"/>
<path d="M968 618C1170 628 1280 680 1550 722" stroke="#6b3fbd" stroke-width="18"/>
</g>
</g></g>

<!-- Photo 3 -->
<g transform="translate(625,820) scale(.33333)"><g clip-path="url(#cp3)">
<rect y="12" width="1545" height="1055" fill="#f8f8f8"/>
<path d="M930 12H1545V470L1420 385Z" fill="url(#g3)"/>
<path d="M1180 12H1545V285Z" fill="#f6f6f8"/>
<path d="M0 670L510 1065H0Z" fill="#fff" stroke="#d4d4d4" stroke-width="3"/>
<g fill="#fff" stroke="#55606a" stroke-width="2.5">
<rect x="-48" y="-32" width="96" height="64" rx="12" transform="translate(35,815) rotate(38)"/>
<rect x="-48" y="-32" width="96" height="64" rx="12" transform="translate(135,890) rotate(38)"/>
<rect x="-48" y="-32" width="96" height="64" rx="12" transform="translate(238,965) rotate(38)"/>
<rect x="-48" y="-32" width="96" height="64" rx="12" transform="translate(340,1042) rotate(38)"/>
<rect x="-48" y="-32" width="96" height="64" rx="12" transform="translate(45,955) rotate(38)"/>
<rect x="-48" y="-32" width="96" height="64" rx="12" transform="translate(145,1020) rotate(38)"/>
<rect x="-48" y="-32" width="96" height="64" rx="12" transform="translate(240,1085) rotate(38)"/>
</g>
<g font-family="Liberation Sans,sans-serif" fill="#444" font-size="22">
<text transform="translate(5,800) rotate(45)">F9</text><text transform="translate(105,880) rotate(45)">F10</text><text transform="translate(205,950) rotate(45)">F11</text><text transform="translate(310,1030) rotate(45)">F12</text>
</g>
<g fill="#8a8a8a"><rect x="140" y="805" width="25" height="14" transform="rotate(40 150 810)"/><rect x="215" y="875" width="25" height="14" transform="rotate(40 225 880)"/><rect x="290" y="930" width="25" height="14" transform="rotate(40 300 936)"/></g>
<path d="M545 12L600 95" stroke="#111" stroke-width="18"/>
<path d="M582 95L640 180" stroke="#151515" stroke-width="44" stroke-linecap="round"/>
<polygon points="310,355 690,185 722,185 855,465 360,708 356,690" fill="#47a068"/>
<polygon points="355,690 470,640 470,655 365,708" fill="#43a062"/>
<polygon points="195,395 300,350 330,430 225,478" fill="#d2d2d2"/>
<polygon points="228,470 345,455 372,522 268,562" fill="#d5d5d5"/>
<path d="M210 405L250 390M215 420L255 408M225 445L265 430M245 500L290 490M255 525L295 510" stroke="#222" stroke-width="6"/>
<path d="M245 490L300 480" stroke="#2a6fc0" stroke-width="8"/>
<polygon points="285,570 420,545 452,640 330,690" fill="#c8c8c8"/>
<polygon points="290,590 410,560 440,630 325,680" fill="#b9b2a6"/>
<polygon points="620,195 670,178 690,225 640,245" fill="#dcdcdc"/>
<polygon points="540,240 585,225 600,265 555,285" fill="#d8d8d8"/><polygon points="465,270 505,258 520,300 480,315" fill="#d8d8d8"/>
<polygon points="375,300 415,290 440,370 400,380" fill="#2a2a2a"/>
<polygon points="435,295 465,285 505,410 480,420" fill="#25302a"/>
<polygon points="730,280 750,262 805,380 780,395" fill="#25302a"/><polygon points="745,285 755,280 795,375 785,380" fill="#dde"/>
<polygon points="770,300 790,295 815,350 795,360" fill="#222"/>
<polygon points="395,450 450,432 475,478 420,495" fill="#1f2a25"/>
<polygon points="488,440 555,415 590,510 525,535" fill="#111"/>
<polygon points="448,535 490,520 505,555 465,570" fill="#1f2a25"/>
<polygon points="570,405 650,378 690,455 610,480" fill="#b9b0a2"/>
<polygon points="580,410 645,388 678,450 615,470" fill="#cfc7ba"/>
<polygon points="708,420 780,395 810,440 745,470" fill="#d8d8d8"/>
<polygon points="665,250 720,228 735,265 680,290" fill="#1f2a25"/>
<polygon points="505,330 585,300 595,320 515,345" fill="#e8eef4"/>
<g fill="none" stroke="#e9f4ee" stroke-width="3"><circle cx="695" cy="365" r="20"/><circle cx="715" cy="375" r="14"/><circle cx="700" cy="395" r="16"/></g>
<g fill="#d7b24a"><circle cx="363" cy="350" r="17"/><circle cx="700" cy="200" r="17"/><circle cx="830" cy="475" r="17"/><circle cx="490" cy="630" r="17"/></g>
<g fill="#7a6a40"><circle cx="363" cy="350" r="7"/><circle cx="700" cy="200" r="7"/><circle cx="830" cy="475" r="7"/><circle cx="490" cy="630" r="7"/></g>
<polygon points="510,605 720,518 730,545 520,632" fill="#222"/>
<polygon points="720,515 800,475 815,505 735,550" fill="#222"/>
<polygon points="455,590 490,580 500,610 465,620" fill="#222"/>
<line x1="520" y1="618" x2="720" y2="532" stroke="#8a8f70" stroke-width="20" stroke-dasharray="3 11"/>
<rect x="770" y="300" width="22" height="60" transform="rotate(-22 780 330)" fill="#222"/>
<g fill="none" stroke-width="4.5">
<path d="M690 470C650 470 620 500 620 520C620 620 750 780 830 860C900 920 1010 950 1060 900C1100 860 1130 790 1145 730" stroke="#8a8a8a"/>
<path d="M645 488C600 510 610 620 700 740C780 850 900 940 990 915C1060 890 1110 810 1130 725" stroke="#7a3030"/>
<path d="M590 475C560 560 640 660 760 820C830 910 930 950 1020 925C1070 900 1120 810 1140 730" stroke="#e87a3a"/>
<path d="M650 520C650 600 720 740 800 830C850 900 950 950 1010 920C1060 900 1140 810 1155 740" stroke="#e8c020"/>
<path d="M665 480C650 580 700 760 780 840C860 920 970 980 1030 950C1090 920 1140 820 1150 740" stroke="#2a3fc0"/>
<path d="M660 480C680 560 700 700 790 820C840 880 920 930 1000 890C1060 860 1110 800 1125 730" stroke="#0f7d5c"/>
<path d="M750 455C720 540 760 740 840 860C880 910 960 950 1040 910C1100 880 1150 800 1165 745" stroke="#fff"/>
<path d="M745 495C740 620 790 800 880 900C940 960 1000 980 1060 950C1120 920 1160 830 1175 750" stroke="#4020a0"/>
<path d="M745 480L770 450L800 460" stroke="#5a40c0"/>
<path d="M580 475Q600 470 640 510" stroke="#e87a3a"/>
</g>
<polygon points="1215,408 1373,485 1230,770 1068,690" fill="#162430"/>
<polygon points="1222,418 1360,488 1225,745 1088,675" fill="#000"/>
<polygon points="1098,680 1212,740 1200,760 1085,698" fill="#c59a4a"/>
<polygon points="1205,735 1230,750 1222,768 1195,755" fill="#2f6fa0"/>
<g fill="none" stroke-width="4"><rect x="-85" y="-30" width="170" height="60" rx="30" transform="translate(1275,478) rotate(26)" stroke="#f08a30"/>
<rect x="-85" y="-30" width="170" height="60" rx="30" transform="translate(1180,668) rotate(26)" stroke="#e84070"/>
<circle cx="1228" cy="572" r="68" stroke="#e85a40" stroke-width="3"/>
<circle cx="1228" cy="572" r="78" stroke="#444" stroke-dasharray="2 5" stroke-width="4"/>
<circle cx="1196" cy="558" r="18" stroke="#30b8e0"/></g>
<circle cx="1258" cy="590" r="18" fill="#5a30c0"/>
<path d="M1228 572L1210 535M1228 572L1295 565M1228 572V635" stroke="#fff" stroke-width="3"/>
<path d="M1228 572V635" stroke="#e85a40" stroke-width="2"/>
<g class="b" text-anchor="middle" style="font-weight:normal">
<text transform="translate(1212,612) rotate(14)" font-size="22">10:09</text>
<text transform="translate(1285,490) rotate(26)" font-size="22" style="fill:#d8a070">5600/8000</text>
<text transform="translate(1182,678) rotate(26)" font-size="24" style="fill:#e86080">40km</text>
</g>
</g></g>
</svg>
</body></html>
